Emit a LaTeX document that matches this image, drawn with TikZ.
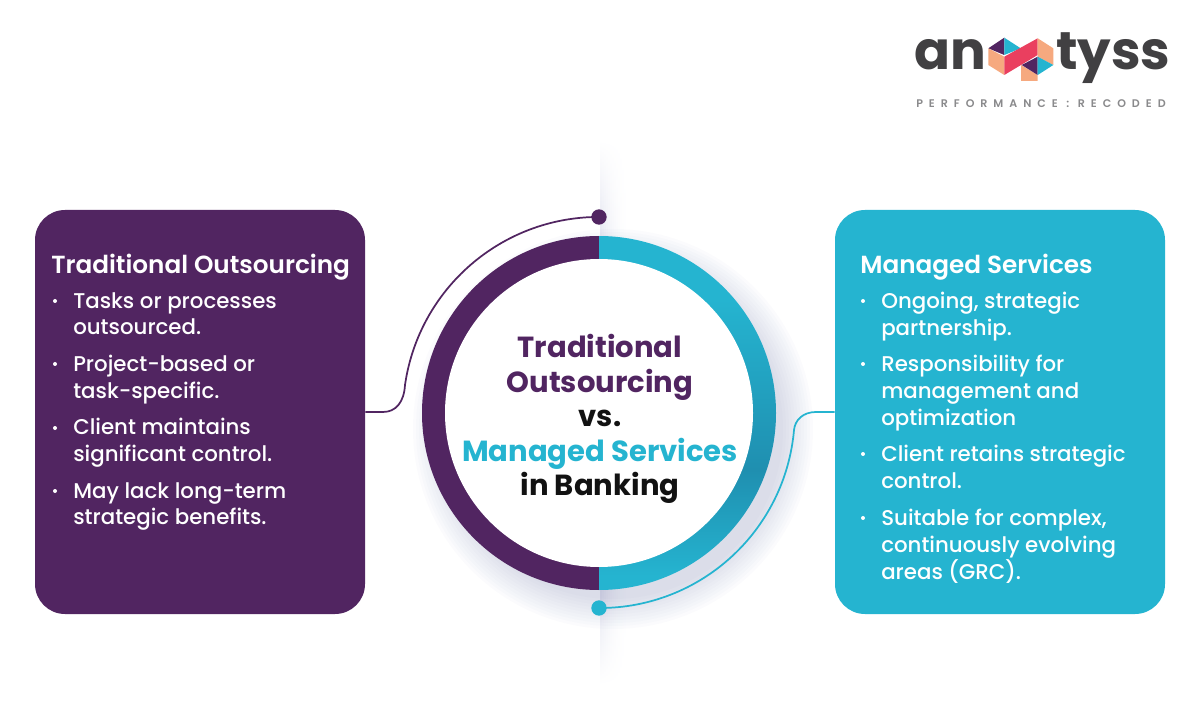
\documentclass[tikz,border=0pt]{standalone}
\usepackage{fontspec}
\setmainfont{Poppins}
\newfontfamily\popmed{Poppins Medium}
\newfontfamily\popsemi{Poppins SemiBold}
\newfontfamily\popbold{Poppins}[BoldFont={Poppins Bold}]
\newfontfamily\popheavy{Poppins Bold}
\newfontfamily\popspaced{Poppins SemiBold}[LetterSpace=54]
\definecolor{plum}{HTML}{512561}
\definecolor{teal2}{HTML}{25B4D0}
\definecolor{tealdark}{HTML}{1F8FB0}
\definecolor{halo}{HTML}{5A64A8}
\definecolor{logodark}{HTML}{414042}
\definecolor{logopeach}{HTML}{F6A97F}
\definecolor{logored}{HTML}{EA3F5F}
\definecolor{logogrey}{HTML}{8A8A8C}
\pgfdeclareverticalshading{ringshade}{100bp}{color(0bp)=(teal2);color(27bp)=(teal2);color(42bp)=(tealdark);color(66bp)=(teal2);color(100bp)=(teal2)}
\tikzset{
  panel/.style={rounded corners=22.5pt,minimum width=247.5pt,minimum height=303pt,inner sep=0pt,draw=none},
  headtext/.style={anchor=base west,inner sep=0pt,text=white,font=\popsemi\fontsize{18.55pt}{20pt}\selectfont},
  itemtext/.style={anchor=north west,inner sep=0pt,align=left,text=white,font=\popmed\fontsize{16pt}{20.1pt}\selectfont},
  bulletdot/.style={circle,fill=white,draw=none,inner sep=0pt,minimum size=3pt},
  linkline/.style={line width=1.3pt},
  enddot/.style={circle,draw=none,inner sep=0pt,minimum size=11.5pt},
  logotext/.style={anchor=base west,inner sep=0pt,text=logodark,font=\popheavy\fontsize{39.8pt}{42pt}\selectfont},
}
\begin{document}
\begin{tikzpicture}[x=.75pt,y=-.75pt]
\useasboundingbox (0,0) rectangle (1200,720);
\fill[white] (0,0) rectangle (1200,720);
% soft vertical band
\foreach \i in {0,...,14}{
  \pgfmathsetmacro{\p}{42*(1-\i/15)*(1-\i/15)}
  \shade[top color=white,bottom color=white,middle color=halo!\p!white]
    ({600+2*\i},140) rectangle ({602.2+2*\i},685);
}
% soft shadow of the ring
\foreach \r in {200,197,...,170}{
  \fill[halo,opacity=.018] (613,429) circle[radius=\r];
}
% ring
\fill[plum] (599,236) arc[start angle=-90,end angle=-270,radius=177] -- cycle;
\shade[shading=ringshade]
  (599,236) arc[start angle=-90,end angle=90,radius=177] -- cycle;
\node[circle,fill=white,minimum size=231pt,inner sep=0pt] (hub) at (599,413) {};
% panels
\node[panel,fill=plum] (lbox) at (200,412) {};
\node[panel,fill=teal2] (rbox) at (1000,412) {};
% connector dots
\node[enddot,fill=plum] (ldot) at (599,217) {};
\node[enddot,fill=teal2] (rdot) at (599,608) {};
\coordinate (lbend) at (405,385);
\coordinate (rbend) at (794,430);
\draw[linkline,plum] (lbox.east) -- (383,412)
  .. controls (396,412) and (404,402) .. (lbend)
  arc[start angle=188.2,end angle=270,radius=196] -- (ldot.center);
\draw[linkline,teal2] (rbox.west) -- (816,412)
  .. controls (803,412) and (795,420) .. (rbend)
  arc[start angle=5,end angle=90,radius=195] -- (rdot.center);
% title
\node[align=center,inner sep=0pt,font=\popbold\bfseries\fontsize{21.8pt}{25.9pt}\selectfont] (title) at (600,419)
 {\textcolor{plum}{Traditional}\\\textcolor{plum}{Outsourcing}\\\textcolor{black!93}{vs.}\\\textcolor{teal2}{Managed Services}\\\textcolor{black!93}{in Banking}};
% left panel text
\node[headtext] (lhead) at (51,274) {Traditional Outsourcing};
\node[itemtext] (l1) at (73,292) {Tasks or processes\\outsourced.};
\node[itemtext] (l2) at (73,355) {Project-based or\\task-specific.};
\node[itemtext] (l3) at (73,418) {Client maintains\\significant control.};
\node[itemtext] (l4) at (73,482) {May lack long-term\\strategic benefits.};
\node[bulletdot] (lb1) at (55,301) {};
\node[bulletdot] (lb2) at (55,364) {};
\node[bulletdot] (lb3) at (55,428) {};
\node[bulletdot] (lb4) at (55,491) {};
% right panel text
\node[headtext] (rhead) at (860,274) {Managed Services};
\node[itemtext] (r1) at (881,292) {Ongoing, strategic\\partnership.};
\node[itemtext] (r2) at (881,355) {Responsibility for\\management and\\optimization};
\node[itemtext] (r3) at (881,445) {Client retains strategic\\control.};
\node[itemtext] (r4) at (881,509) {Suitable for complex,\\continuously evolving\\areas (GRC).};
\node[bulletdot] (rb1) at (863,301) {};
\node[bulletdot] (rb2) at (863,364) {};
\node[bulletdot] (rb3) at (863,454) {};
\node[bulletdot] (rb4) at (863,518) {};
% logo
\node[logotext] (logoa) at (914,70) {an};
\node[logotext] (logob) at (1056,70) {tyss};
\node[anchor=base west,inner sep=0pt,text=logogrey,font=\popspaced\fontsize{8.3pt}{10pt}\selectfont] (logoc) at (916,108) {PERFORMANCE : RECODED};
\fill[plum] (988.3,48.3) -- (1004.3,37.7) -- (1004.3,55) -- cycle;
\fill[teal2] (1004.3,37.7) -- (1020.7,48.3) -- (1004.3,55) -- cycle;
\fill[logopeach] (988.3,48.3) -- (1004.3,56.7) -- (1004.3,75) -- (988.3,65) -- cycle;
\fill[logored] (1004.3,56.7) -- (1037.7,38.3) -- (1037.7,55) -- (1004.3,75) -- cycle;
\fill[logopeach] (1037.7,38.3) -- (1053.3,48.3) -- (1053.3,65) -- (1037.7,56.7) -- cycle;
\fill[logopeach] (1021,65) -- (1037.7,75) -- (1037.7,81) -- (1021,81) -- cycle;
\fill[plum] (1021.7,65) -- (1037.7,56.7) -- (1037.7,75) -- cycle;
\fill[teal2] (1037.7,56.7) -- (1053.3,65) -- (1037.7,75) -- cycle;
\end{tikzpicture}
\end{document}
